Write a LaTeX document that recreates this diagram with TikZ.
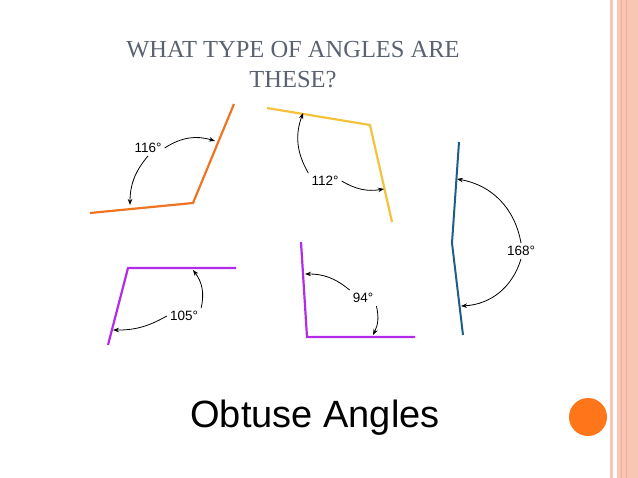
\documentclass[tikz,border=0pt]{standalone}
\usepackage{fontspec}
\setmainfont{Liberation Serif}
\newfontfamily\arial{Liberation Sans}
\usetikzlibrary{arrows.meta}
\definecolor{salm}{HTML}{F9C6B3}
\definecolor{salmd}{HTML}{F1AE96}
\definecolor{ttl}{HTML}{5A6270}
\definecolor{org}{HTML}{EE7322}
\definecolor{yel}{HTML}{F4C23C}
\definecolor{blu}{HTML}{1E5E86}
\definecolor{pur}{HTML}{B12BE8}
\begin{document}
\begin{tikzpicture}[x=1pt,y=-1pt,
 ang/.style={line width=2.2pt},
 arr/.style={-{Stealth[length=6pt,width=4.5pt]},thick},
 lab/.style={font=\arial\fontsize{13.5}{15}\selectfont,inner sep=3pt}]
\useasboundingbox (0,0) rectangle (638,478);
\fill[salm] (610,0) rectangle (613,478);
\fill[salm] (617,0) rectangle (638,478);
\draw[salmd,line width=1pt] (621,0) -- (621,478) (626,0) -- (626,478);
\fill[orange!80!red!90!white] (588,417) circle (19);
\node[ttl,font=\fontsize{24.5}{30}\selectfont,align=center] (title) at (293,65) {WHAT TYPE OF ANGLES ARE\\THESE?};
\node[font=\arial\fontsize{38}{42}\selectfont] (ob) at (315,418) {Obtuse Angles};
% orange
\coordinate (o1) at (90,213); \coordinate (o2) at (193,203); \coordinate (o3) at (234,104);
\draw[ang,org] (o1)--(o2)--(o3);
\node[lab] (l116) at (148,148) {116°};
\coordinate (t1) at (215,141); \coordinate (t2) at (130,205);
\draw[arr] (l116.east) to[bend left=25] (t1);
\draw[arr] (l116.south) to[bend right=20] (t2);
% yellow
\coordinate (y1) at (267,108); \coordinate (y2) at (370,125); \coordinate (y3) at (392,222);
\draw[ang,yel] (y1)--(y2)--(y3);
\node[lab] (l112) at (325,181) {112°};
\coordinate (t3) at (303,113); \coordinate (t4) at (384,189);
\draw[arr] (l112.north west) to[bend left=25] (t3);
\draw[arr] (l112.east) to[bend right=20] (t4);
% blue
\coordinate (b1) at (459,142); \coordinate (b2) at (452,243); \coordinate (b3) at (463,335);
\draw[ang,blu,line width=2pt] (b1)--(b2)--(b3);
\node[lab] (l168) at (521,251) {168°};
\coordinate (t5) at (457,179); \coordinate (t6) at (461,306);
\draw[arr] (l168.north) to[bend right=35] (t5);
\draw[arr] (l168.south) to[bend left=35] (t6);
% purple 1
\coordinate (p1) at (108,345); \coordinate (p2) at (128,268); \coordinate (p3) at (236,268);
\draw[ang,pur] (p1)--(p2)--(p3);
\node[lab] (l105) at (184,316) {105°};
\coordinate (t7) at (193,270); \coordinate (t8) at (113,330);
\draw[arr] (l105.north east) to[bend right=25] (t7);
\draw[arr] (l105.west) to[bend left=15] (t8);
% purple 2
\coordinate (q1) at (301,242); \coordinate (q2) at (307,337); \coordinate (q3) at (415,337);
\draw[ang,pur] (q1)--(q2)--(q3);
\node[lab] (l94) at (363,298) {94°};
\coordinate (t9) at (305,274); \coordinate (t10) at (373,335);
\draw[arr] (l94.north west) to[bend right=20] (t9);
\draw[arr] (l94.south east) to[bend left=20] (t10);
\end{tikzpicture}
\end{document}
